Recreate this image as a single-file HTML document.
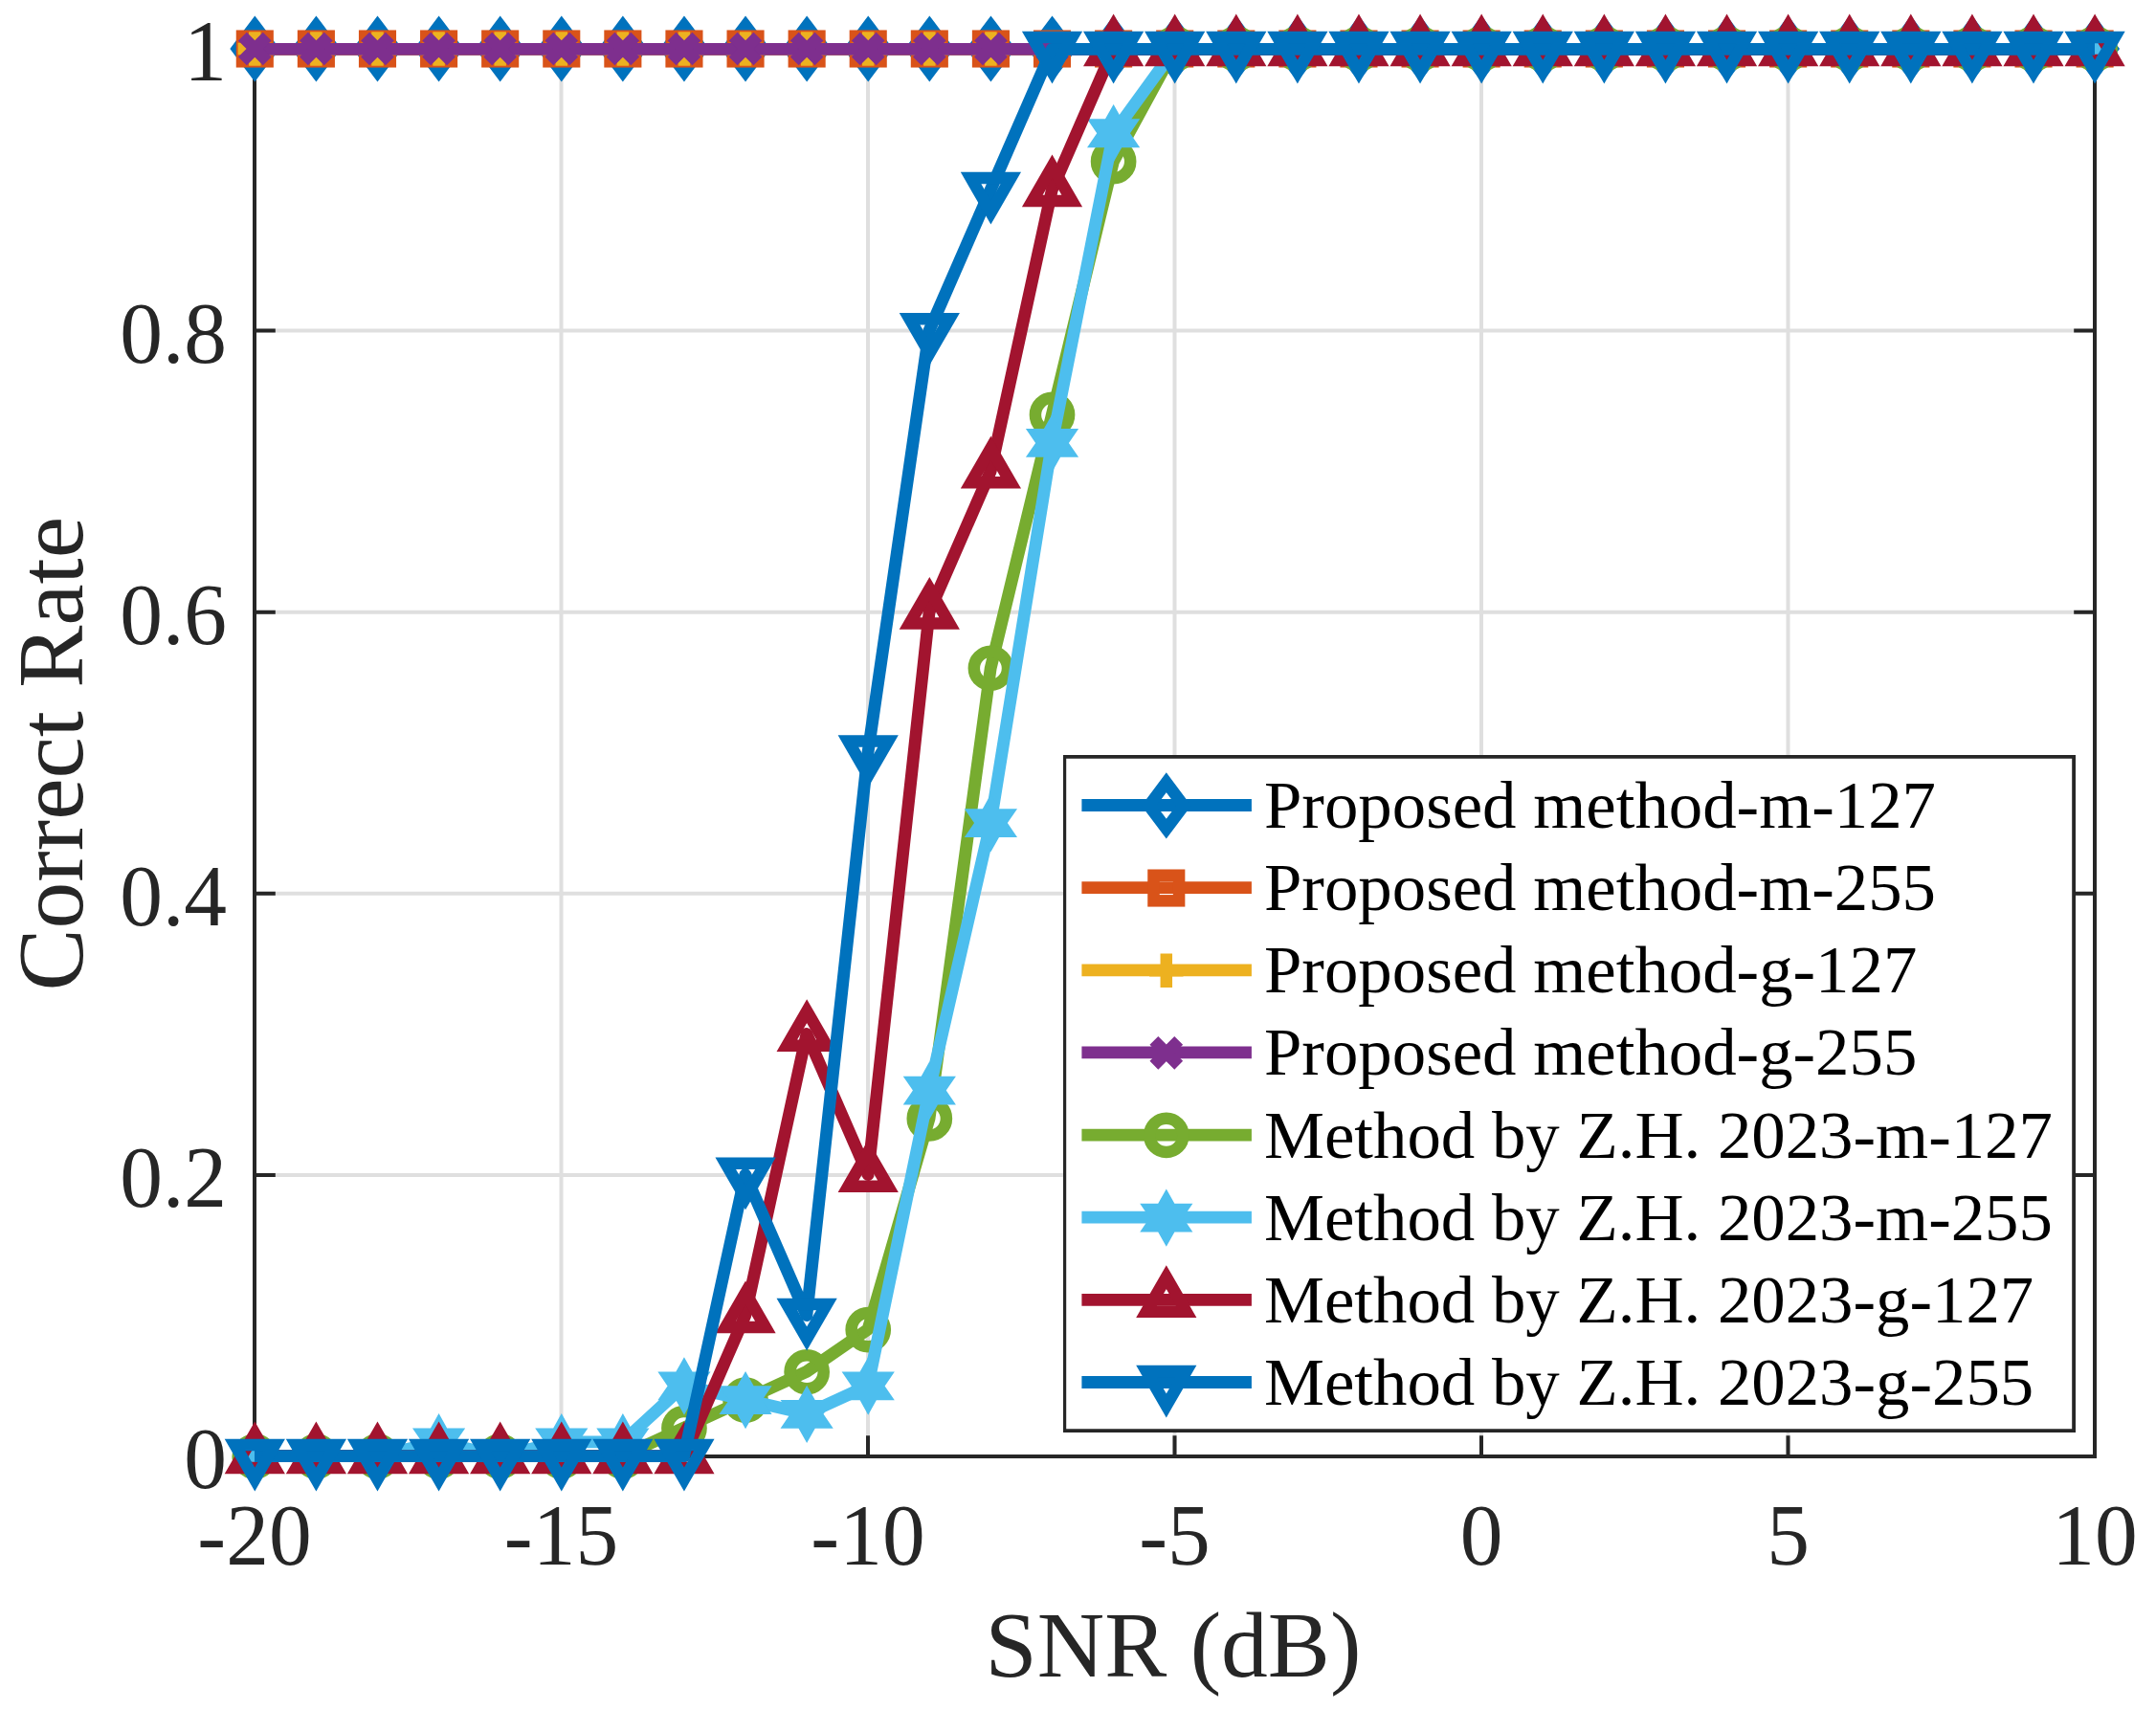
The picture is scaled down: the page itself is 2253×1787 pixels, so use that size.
<!DOCTYPE html>
<html lang="en"><head><meta charset="utf-8"><title>Correct Rate vs SNR</title>
<style>html,body{margin:0;padding:0;background:#fff}body{width:2253px;height:1787px;overflow:hidden}svg{display:block}text{font-family:'Liberation Serif', 'Times New Roman', Times, serif;fill:#262626}</style>
</head><body>
<svg width="2253" height="1787" viewBox="0 0 2253 1787">
<rect width="2253" height="1787" fill="#fff"/>
<defs>
<g id="m0"><path d="M0 -24.2L18.15 0L0 24.2L-18.15 0Z" fill="none" stroke="currentColor" stroke-width="12.5" stroke-linejoin="miter" stroke-miterlimit="10"/></g>
<g id="m1"><rect x="-13.3" y="-13.3" width="26.6" height="26.6" fill="none" stroke="currentColor" stroke-width="12.5"/></g>
<g id="m2"><path d="M-17.7 0H17.7M0 -17.7V17.7" fill="none" stroke="currentColor" stroke-width="12.5"/></g>
<g id="m3"><path d="M-12.9 -12.9L12.9 12.9M-12.9 12.9L12.9 -12.9" fill="none" stroke="currentColor" stroke-width="12.5"/></g>
<g id="m4"><circle r="17.6" fill="none" stroke="currentColor" stroke-width="12.5"/></g>
<g id="m5"><path d="M0 -30.2L8.6 -14.9L27.6 -14.9L17.4 0L27.6 14.9L8.6 14.9L0 30.2L-8.6 14.9L-27.6 14.9L-17.4 0L-27.6 -14.9L-8.6 -14.9Z" fill="currentColor"/></g>
<g id="m6"><path d="M0 -24L20.78 12L-20.78 12Z" fill="none" stroke="currentColor" stroke-width="12.5" stroke-linejoin="miter" stroke-miterlimit="10"/></g>
<g id="m7"><path d="M0 24L20.78 -12L-20.78 -12Z" fill="none" stroke="currentColor" stroke-width="12.5" stroke-linejoin="miter" stroke-miterlimit="10"/></g>
</defs>
<path d="M586.5 51.5V1522M907 51.5V1522M1227.5 51.5V1522M1548 51.5V1522M1868.5 51.5V1522M266 1227.9H2189M266 933.8H2189M266 639.7H2189M266 345.6H2189" stroke="#dfdfdf" stroke-width="4.0" fill="none"/>
<path d="M266 1522v-21.8M266 51.5v21.8M586.5 1522v-21.8M586.5 51.5v21.8M907 1522v-21.8M907 51.5v21.8M1227.5 1522v-21.8M1227.5 51.5v21.8M1548 1522v-21.8M1548 51.5v21.8M1868.5 1522v-21.8M1868.5 51.5v21.8M2189 1522v-21.8M2189 51.5v21.8M266 1522h21.8M2189 1522h-21.8M266 1227.9h21.8M2189 1227.9h-21.8M266 933.8h21.8M2189 933.8h-21.8M266 639.7h21.8M2189 639.7h-21.8M266 345.6h21.8M2189 345.6h-21.8M266 51.5h21.8M2189 51.5h-21.8" stroke="#262626" stroke-width="4.0" fill="none"/>
<rect x="266" y="51.5" width="1923" height="1470.5" fill="none" stroke="#262626" stroke-width="4.0"/>
<text transform="translate(266 1635.0) scale(1 1.022)" font-size="89.5" text-anchor="middle">-20</text>
<text transform="translate(586.5 1635.0) scale(1 1.022)" font-size="89.5" text-anchor="middle">-15</text>
<text transform="translate(907 1635.0) scale(1 1.022)" font-size="89.5" text-anchor="middle">-10</text>
<text transform="translate(1227.5 1635.0) scale(1 1.022)" font-size="89.5" text-anchor="middle">-5</text>
<text transform="translate(1548 1635.0) scale(1 1.022)" font-size="89.5" text-anchor="middle">0</text>
<text transform="translate(1868.5 1635.0) scale(1 1.022)" font-size="89.5" text-anchor="middle">5</text>
<text transform="translate(2189 1635.0) scale(1 1.022)" font-size="89.5" text-anchor="middle">10</text>
<text transform="translate(237.0 1554.9) scale(1 1.022)" font-size="89.5" text-anchor="end">0</text>
<text transform="translate(237.0 1260.8) scale(1 1.022)" font-size="89.5" text-anchor="end">0.2</text>
<text transform="translate(237.0 966.7) scale(1 1.022)" font-size="89.5" text-anchor="end">0.4</text>
<text transform="translate(237.0 672.6) scale(1 1.022)" font-size="89.5" text-anchor="end">0.6</text>
<text transform="translate(237.0 378.5) scale(1 1.022)" font-size="89.5" text-anchor="end">0.8</text>
<text transform="translate(237.0 84.4) scale(1 1.022)" font-size="89.5" text-anchor="end">1</text>
<text x="1226" y="1752" font-size="97.5" text-anchor="middle">SNR (dB)</text>
<text transform="translate(86.2 787.75) rotate(-90)" font-size="97.5" text-anchor="middle">Correct Rate</text>
<g color="#0072bd">
<polyline points="266,51.3 330.1,51.3 394.2,51.3 458.3,51.3 522.4,51.3 586.5,51.3 650.6,51.3 714.7,51.3 778.8,51.3 842.9,51.3 907,51.3 971.1,51.3 1035.2,51.3 1099.3,51.3 1163.4,51.3 1227.5,51.3 1291.6,51.3 1355.7,51.3 1419.8,51.3 1483.9,51.3 1548,51.3 1612.1,51.3 1676.2,51.3 1740.3,51.3 1804.4,51.3 1868.5,51.3 1932.6,51.3 1996.7,51.3 2060.8,51.3 2124.9,51.3 2189,51.3" fill="none" stroke="#0072bd" stroke-width="12.8" stroke-linejoin="round"/>
<use href="#m0" x="266.3" y="51"/>
<use href="#m0" x="330.39" y="51"/>
<use href="#m0" x="394.49" y="51"/>
<use href="#m0" x="458.58" y="51"/>
<use href="#m0" x="522.67" y="51"/>
<use href="#m0" x="586.77" y="51"/>
<use href="#m0" x="650.86" y="51"/>
<use href="#m0" x="714.95" y="51"/>
<use href="#m0" x="779.05" y="51"/>
<use href="#m0" x="843.14" y="51"/>
<use href="#m0" x="907.23" y="51"/>
<use href="#m0" x="971.33" y="51"/>
<use href="#m0" x="1035.42" y="51"/>
<use href="#m0" x="1099.51" y="51"/>
<use href="#m0" x="1163.61" y="51"/>
<use href="#m0" x="1227.7" y="51"/>
<use href="#m0" x="1291.79" y="51"/>
<use href="#m0" x="1355.89" y="51"/>
<use href="#m0" x="1419.98" y="51"/>
<use href="#m0" x="1484.07" y="51"/>
<use href="#m0" x="1548.17" y="51"/>
<use href="#m0" x="1612.26" y="51"/>
<use href="#m0" x="1676.35" y="51"/>
<use href="#m0" x="1740.45" y="51"/>
<use href="#m0" x="1804.54" y="51"/>
<use href="#m0" x="1868.63" y="51"/>
<use href="#m0" x="1932.73" y="51"/>
<use href="#m0" x="1996.82" y="51"/>
<use href="#m0" x="2060.91" y="51"/>
<use href="#m0" x="2125.01" y="51"/>
<use href="#m0" x="2189.1" y="51"/>
</g>
<g color="#d95319">
<polyline points="266,51.3 330.1,51.3 394.2,51.3 458.3,51.3 522.4,51.3 586.5,51.3 650.6,51.3 714.7,51.3 778.8,51.3 842.9,51.3 907,51.3 971.1,51.3 1035.2,51.3 1099.3,51.3 1163.4,51.3 1227.5,51.3 1291.6,51.3 1355.7,51.3 1419.8,51.3 1483.9,51.3 1548,51.3 1612.1,51.3 1676.2,51.3 1740.3,51.3 1804.4,51.3 1868.5,51.3 1932.6,51.3 1996.7,51.3 2060.8,51.3 2124.9,51.3 2189,51.3" fill="none" stroke="#d95319" stroke-width="12.8" stroke-linejoin="round"/>
<use href="#m1" x="266.3" y="51"/>
<use href="#m1" x="330.39" y="51"/>
<use href="#m1" x="394.49" y="51"/>
<use href="#m1" x="458.58" y="51"/>
<use href="#m1" x="522.67" y="51"/>
<use href="#m1" x="586.77" y="51"/>
<use href="#m1" x="650.86" y="51"/>
<use href="#m1" x="714.95" y="51"/>
<use href="#m1" x="779.05" y="51"/>
<use href="#m1" x="843.14" y="51"/>
<use href="#m1" x="907.23" y="51"/>
<use href="#m1" x="971.33" y="51"/>
<use href="#m1" x="1035.42" y="51"/>
<use href="#m1" x="1099.51" y="51"/>
<use href="#m1" x="1163.61" y="51"/>
<use href="#m1" x="1227.7" y="51"/>
<use href="#m1" x="1291.79" y="51"/>
<use href="#m1" x="1355.89" y="51"/>
<use href="#m1" x="1419.98" y="51"/>
<use href="#m1" x="1484.07" y="51"/>
<use href="#m1" x="1548.17" y="51"/>
<use href="#m1" x="1612.26" y="51"/>
<use href="#m1" x="1676.35" y="51"/>
<use href="#m1" x="1740.45" y="51"/>
<use href="#m1" x="1804.54" y="51"/>
<use href="#m1" x="1868.63" y="51"/>
<use href="#m1" x="1932.73" y="51"/>
<use href="#m1" x="1996.82" y="51"/>
<use href="#m1" x="2060.91" y="51"/>
<use href="#m1" x="2125.01" y="51"/>
<use href="#m1" x="2189.1" y="51"/>
</g>
<g color="#edb120">
<polyline points="266,51.3 330.1,51.3 394.2,51.3 458.3,51.3 522.4,51.3 586.5,51.3 650.6,51.3 714.7,51.3 778.8,51.3 842.9,51.3 907,51.3 971.1,51.3 1035.2,51.3 1099.3,51.3 1163.4,51.3 1227.5,51.3 1291.6,51.3 1355.7,51.3 1419.8,51.3 1483.9,51.3 1548,51.3 1612.1,51.3 1676.2,51.3 1740.3,51.3 1804.4,51.3 1868.5,51.3 1932.6,51.3 1996.7,51.3 2060.8,51.3 2124.9,51.3 2189,51.3" fill="none" stroke="#edb120" stroke-width="12.8" stroke-linejoin="round"/>
<use href="#m2" x="266.3" y="51"/>
<use href="#m2" x="330.39" y="51"/>
<use href="#m2" x="394.49" y="51"/>
<use href="#m2" x="458.58" y="51"/>
<use href="#m2" x="522.67" y="51"/>
<use href="#m2" x="586.77" y="51"/>
<use href="#m2" x="650.86" y="51"/>
<use href="#m2" x="714.95" y="51"/>
<use href="#m2" x="779.05" y="51"/>
<use href="#m2" x="843.14" y="51"/>
<use href="#m2" x="907.23" y="51"/>
<use href="#m2" x="971.33" y="51"/>
<use href="#m2" x="1035.42" y="51"/>
<use href="#m2" x="1099.51" y="51"/>
<use href="#m2" x="1163.61" y="51"/>
<use href="#m2" x="1227.7" y="51"/>
<use href="#m2" x="1291.79" y="51"/>
<use href="#m2" x="1355.89" y="51"/>
<use href="#m2" x="1419.98" y="51"/>
<use href="#m2" x="1484.07" y="51"/>
<use href="#m2" x="1548.17" y="51"/>
<use href="#m2" x="1612.26" y="51"/>
<use href="#m2" x="1676.35" y="51"/>
<use href="#m2" x="1740.45" y="51"/>
<use href="#m2" x="1804.54" y="51"/>
<use href="#m2" x="1868.63" y="51"/>
<use href="#m2" x="1932.73" y="51"/>
<use href="#m2" x="1996.82" y="51"/>
<use href="#m2" x="2060.91" y="51"/>
<use href="#m2" x="2125.01" y="51"/>
<use href="#m2" x="2189.1" y="51"/>
</g>
<g color="#7e2f8e">
<polyline points="266,51.3 330.1,51.3 394.2,51.3 458.3,51.3 522.4,51.3 586.5,51.3 650.6,51.3 714.7,51.3 778.8,51.3 842.9,51.3 907,51.3 971.1,51.3 1035.2,51.3 1099.3,51.3 1163.4,51.3 1227.5,51.3 1291.6,51.3 1355.7,51.3 1419.8,51.3 1483.9,51.3 1548,51.3 1612.1,51.3 1676.2,51.3 1740.3,51.3 1804.4,51.3 1868.5,51.3 1932.6,51.3 1996.7,51.3 2060.8,51.3 2124.9,51.3 2189,51.3" fill="none" stroke="#7e2f8e" stroke-width="12.8" stroke-linejoin="round"/>
<use href="#m3" x="266.3" y="51"/>
<use href="#m3" x="330.39" y="51"/>
<use href="#m3" x="394.49" y="51"/>
<use href="#m3" x="458.58" y="51"/>
<use href="#m3" x="522.67" y="51"/>
<use href="#m3" x="586.77" y="51"/>
<use href="#m3" x="650.86" y="51"/>
<use href="#m3" x="714.95" y="51"/>
<use href="#m3" x="779.05" y="51"/>
<use href="#m3" x="843.14" y="51"/>
<use href="#m3" x="907.23" y="51"/>
<use href="#m3" x="971.33" y="51"/>
<use href="#m3" x="1035.42" y="51"/>
<use href="#m3" x="1099.51" y="51"/>
<use href="#m3" x="1163.61" y="51"/>
<use href="#m3" x="1227.7" y="51"/>
<use href="#m3" x="1291.79" y="51"/>
<use href="#m3" x="1355.89" y="51"/>
<use href="#m3" x="1419.98" y="51"/>
<use href="#m3" x="1484.07" y="51"/>
<use href="#m3" x="1548.17" y="51"/>
<use href="#m3" x="1612.26" y="51"/>
<use href="#m3" x="1676.35" y="51"/>
<use href="#m3" x="1740.45" y="51"/>
<use href="#m3" x="1804.54" y="51"/>
<use href="#m3" x="1868.63" y="51"/>
<use href="#m3" x="1932.73" y="51"/>
<use href="#m3" x="1996.82" y="51"/>
<use href="#m3" x="2060.91" y="51"/>
<use href="#m3" x="2125.01" y="51"/>
<use href="#m3" x="2189.1" y="51"/>
</g>
<g color="#77ac30">
<polyline points="266,1521.6 330.1,1521.6 394.2,1521.6 458.3,1521.6 522.4,1521.6 586.5,1521.6 650.6,1521.6 714.7,1492.19 778.8,1462.79 842.9,1433.38 907,1389.27 971.1,1168.73 1035.2,698.23 1099.3,433.58 1163.4,168.92 1227.5,51.3 1291.6,51.3 1355.7,51.3 1419.8,51.3 1483.9,51.3 1548,51.3 1612.1,51.3 1676.2,51.3 1740.3,51.3 1804.4,51.3 1868.5,51.3 1932.6,51.3 1996.7,51.3 2060.8,51.3 2124.9,51.3 2189,51.3" fill="none" stroke="#77ac30" stroke-width="12.8" stroke-linejoin="round"/>
<use href="#m4" x="266.3" y="1522"/>
<use href="#m4" x="330.39" y="1522"/>
<use href="#m4" x="394.49" y="1522"/>
<use href="#m4" x="458.58" y="1522"/>
<use href="#m4" x="522.67" y="1522"/>
<use href="#m4" x="586.77" y="1522"/>
<use href="#m4" x="650.86" y="1522"/>
<use href="#m4" x="714.95" y="1492.58"/>
<use href="#m4" x="779.05" y="1463.16"/>
<use href="#m4" x="843.14" y="1433.74"/>
<use href="#m4" x="907.23" y="1389.61"/>
<use href="#m4" x="971.33" y="1168.96"/>
<use href="#m4" x="1035.42" y="698.24"/>
<use href="#m4" x="1099.51" y="433.46"/>
<use href="#m4" x="1163.61" y="168.68"/>
<use href="#m4" x="1227.7" y="51"/>
<use href="#m4" x="1291.79" y="51"/>
<use href="#m4" x="1355.89" y="51"/>
<use href="#m4" x="1419.98" y="51"/>
<use href="#m4" x="1484.07" y="51"/>
<use href="#m4" x="1548.17" y="51"/>
<use href="#m4" x="1612.26" y="51"/>
<use href="#m4" x="1676.35" y="51"/>
<use href="#m4" x="1740.45" y="51"/>
<use href="#m4" x="1804.54" y="51"/>
<use href="#m4" x="1868.63" y="51"/>
<use href="#m4" x="1932.73" y="51"/>
<use href="#m4" x="1996.82" y="51"/>
<use href="#m4" x="2060.91" y="51"/>
<use href="#m4" x="2125.01" y="51"/>
<use href="#m4" x="2189.1" y="51"/>
</g>
<g color="#4dbeee">
<polyline points="266,1521.6 330.1,1521.6 394.2,1521.6 458.3,1506.9 522.4,1521.6 586.5,1506.9 650.6,1506.9 714.7,1448.08 778.8,1462.79 842.9,1477.49 907,1448.08 971.1,1139.32 1035.2,859.96 1099.3,462.98 1163.4,139.52 1227.5,51.3 1291.6,51.3 1355.7,51.3 1419.8,51.3 1483.9,51.3 1548,51.3 1612.1,51.3 1676.2,51.3 1740.3,51.3 1804.4,51.3 1868.5,51.3 1932.6,51.3 1996.7,51.3 2060.8,51.3 2124.9,51.3 2189,51.3" fill="none" stroke="#4dbeee" stroke-width="12.8" stroke-linejoin="round"/>
<use href="#m5" x="266.3" y="1522"/>
<use href="#m5" x="330.39" y="1522"/>
<use href="#m5" x="394.49" y="1522"/>
<use href="#m5" x="458.58" y="1507.29"/>
<use href="#m5" x="522.67" y="1522"/>
<use href="#m5" x="586.77" y="1507.29"/>
<use href="#m5" x="650.86" y="1507.29"/>
<use href="#m5" x="714.95" y="1448.45"/>
<use href="#m5" x="779.05" y="1463.16"/>
<use href="#m5" x="843.14" y="1477.87"/>
<use href="#m5" x="907.23" y="1448.45"/>
<use href="#m5" x="971.33" y="1139.54"/>
<use href="#m5" x="1035.42" y="860.05"/>
<use href="#m5" x="1099.51" y="462.88"/>
<use href="#m5" x="1163.61" y="139.26"/>
<use href="#m5" x="1227.7" y="51"/>
<use href="#m5" x="1291.79" y="51"/>
<use href="#m5" x="1355.89" y="51"/>
<use href="#m5" x="1419.98" y="51"/>
<use href="#m5" x="1484.07" y="51"/>
<use href="#m5" x="1548.17" y="51"/>
<use href="#m5" x="1612.26" y="51"/>
<use href="#m5" x="1676.35" y="51"/>
<use href="#m5" x="1740.45" y="51"/>
<use href="#m5" x="1804.54" y="51"/>
<use href="#m5" x="1868.63" y="51"/>
<use href="#m5" x="1932.73" y="51"/>
<use href="#m5" x="1996.82" y="51"/>
<use href="#m5" x="2060.91" y="51"/>
<use href="#m5" x="2125.01" y="51"/>
<use href="#m5" x="2189.1" y="51"/>
</g>
<g color="#a2142f">
<polyline points="266,1521.6 330.1,1521.6 394.2,1521.6 458.3,1521.6 522.4,1521.6 586.5,1521.6 650.6,1521.6 714.7,1521.6 778.8,1374.57 842.9,1080.51 907,1227.54 971.1,639.42 1035.2,492.39 1099.3,198.33 1163.4,51.3 1227.5,51.3 1291.6,51.3 1355.7,51.3 1419.8,51.3 1483.9,51.3 1548,51.3 1612.1,51.3 1676.2,51.3 1740.3,51.3 1804.4,51.3 1868.5,51.3 1932.6,51.3 1996.7,51.3 2060.8,51.3 2124.9,51.3 2189,51.3" fill="none" stroke="#a2142f" stroke-width="12.8" stroke-linejoin="round"/>
<use href="#m6" x="266.3" y="1522"/>
<use href="#m6" x="330.39" y="1522"/>
<use href="#m6" x="394.49" y="1522"/>
<use href="#m6" x="458.58" y="1522"/>
<use href="#m6" x="522.67" y="1522"/>
<use href="#m6" x="586.77" y="1522"/>
<use href="#m6" x="650.86" y="1522"/>
<use href="#m6" x="714.95" y="1522"/>
<use href="#m6" x="779.05" y="1374.9"/>
<use href="#m6" x="843.14" y="1080.7"/>
<use href="#m6" x="907.23" y="1227.8"/>
<use href="#m6" x="971.33" y="639.4"/>
<use href="#m6" x="1035.42" y="492.3"/>
<use href="#m6" x="1099.51" y="198.1"/>
<use href="#m6" x="1163.61" y="51"/>
<use href="#m6" x="1227.7" y="51"/>
<use href="#m6" x="1291.79" y="51"/>
<use href="#m6" x="1355.89" y="51"/>
<use href="#m6" x="1419.98" y="51"/>
<use href="#m6" x="1484.07" y="51"/>
<use href="#m6" x="1548.17" y="51"/>
<use href="#m6" x="1612.26" y="51"/>
<use href="#m6" x="1676.35" y="51"/>
<use href="#m6" x="1740.45" y="51"/>
<use href="#m6" x="1804.54" y="51"/>
<use href="#m6" x="1868.63" y="51"/>
<use href="#m6" x="1932.73" y="51"/>
<use href="#m6" x="1996.82" y="51"/>
<use href="#m6" x="2060.91" y="51"/>
<use href="#m6" x="2125.01" y="51"/>
<use href="#m6" x="2189.1" y="51"/>
</g>
<g color="#0072bd">
<polyline points="266,1521.6 330.1,1521.6 394.2,1521.6 458.3,1521.6 522.4,1521.6 586.5,1521.6 650.6,1521.6 714.7,1521.6 778.8,1227.54 842.9,1374.57 907,786.45 971.1,345.36 1035.2,198.33 1099.3,51.3 1163.4,51.3 1227.5,51.3 1291.6,51.3 1355.7,51.3 1419.8,51.3 1483.9,51.3 1548,51.3 1612.1,51.3 1676.2,51.3 1740.3,51.3 1804.4,51.3 1868.5,51.3 1932.6,51.3 1996.7,51.3 2060.8,51.3 2124.9,51.3 2189,51.3" fill="none" stroke="#0072bd" stroke-width="12.8" stroke-linejoin="round"/>
<use href="#m7" x="266.3" y="1522"/>
<use href="#m7" x="330.39" y="1522"/>
<use href="#m7" x="394.49" y="1522"/>
<use href="#m7" x="458.58" y="1522"/>
<use href="#m7" x="522.67" y="1522"/>
<use href="#m7" x="586.77" y="1522"/>
<use href="#m7" x="650.86" y="1522"/>
<use href="#m7" x="714.95" y="1522"/>
<use href="#m7" x="779.05" y="1227.8"/>
<use href="#m7" x="843.14" y="1374.9"/>
<use href="#m7" x="907.23" y="786.5"/>
<use href="#m7" x="971.33" y="345.2"/>
<use href="#m7" x="1035.42" y="198.1"/>
<use href="#m7" x="1099.51" y="51"/>
<use href="#m7" x="1163.61" y="51"/>
<use href="#m7" x="1227.7" y="51"/>
<use href="#m7" x="1291.79" y="51"/>
<use href="#m7" x="1355.89" y="51"/>
<use href="#m7" x="1419.98" y="51"/>
<use href="#m7" x="1484.07" y="51"/>
<use href="#m7" x="1548.17" y="51"/>
<use href="#m7" x="1612.26" y="51"/>
<use href="#m7" x="1676.35" y="51"/>
<use href="#m7" x="1740.45" y="51"/>
<use href="#m7" x="1804.54" y="51"/>
<use href="#m7" x="1868.63" y="51"/>
<use href="#m7" x="1932.73" y="51"/>
<use href="#m7" x="1996.82" y="51"/>
<use href="#m7" x="2060.91" y="51"/>
<use href="#m7" x="2125.01" y="51"/>
<use href="#m7" x="2189.1" y="51"/>
</g>
<rect x="1111" y="789" width="1058" height="708" fill="#fff"/>
<path d="M1111 789H2169V1497H1111ZM1114.2 792.8V1493.2H2165.2V792.8Z" fill="#262626" fill-rule="evenodd"/>
<g color="#0072bd">
<path d="M1130.4 841.5H1307.9" stroke="#0072bd" stroke-width="12.8" fill="none"/>
<use href="#m0" x="1218.8" y="841.9"/>
</g>
<text x="1321" y="865" font-size="70.8" style="fill:#000">Proposed method-m-127</text>
<g color="#d95319">
<path d="M1130.4 927.64H1307.9" stroke="#d95319" stroke-width="12.8" fill="none"/>
<use href="#m1" x="1218.8" y="928.04"/>
</g>
<text x="1321" y="951.14" font-size="70.8" style="fill:#000">Proposed method-m-255</text>
<g color="#edb120">
<path d="M1130.4 1013.78H1307.9" stroke="#edb120" stroke-width="12.8" fill="none"/>
<use href="#m2" x="1218.8" y="1014.18"/>
</g>
<text x="1321" y="1037.28" font-size="70.8" style="fill:#000">Proposed method-g-127</text>
<g color="#7e2f8e">
<path d="M1130.4 1099.92H1307.9" stroke="#7e2f8e" stroke-width="12.8" fill="none"/>
<use href="#m3" x="1218.8" y="1100.32"/>
</g>
<text x="1321" y="1123.42" font-size="70.8" style="fill:#000">Proposed method-g-255</text>
<g color="#77ac30">
<path d="M1130.4 1186.06H1307.9" stroke="#77ac30" stroke-width="12.8" fill="none"/>
<use href="#m4" x="1218.8" y="1186.46"/>
</g>
<text x="1321" y="1209.56" font-size="70.8" style="fill:#000">Method by Z.H. 2023-m-127</text>
<g color="#4dbeee">
<path d="M1130.4 1272.2H1307.9" stroke="#4dbeee" stroke-width="12.8" fill="none"/>
<use href="#m5" x="1218.8" y="1272.6"/>
</g>
<text x="1321" y="1295.7" font-size="70.8" style="fill:#000">Method by Z.H. 2023-m-255</text>
<g color="#a2142f">
<path d="M1130.4 1358.34H1307.9" stroke="#a2142f" stroke-width="12.8" fill="none"/>
<use href="#m6" x="1218.8" y="1358.74"/>
</g>
<text x="1321" y="1381.84" font-size="70.8" style="fill:#000">Method by Z.H. 2023-g-127</text>
<g color="#0072bd">
<path d="M1130.4 1444.48H1307.9" stroke="#0072bd" stroke-width="12.8" fill="none"/>
<use href="#m7" x="1218.8" y="1444.88"/>
</g>
<text x="1321" y="1467.98" font-size="70.8" style="fill:#000">Method by Z.H. 2023-g-255</text>
</svg></body></html>
